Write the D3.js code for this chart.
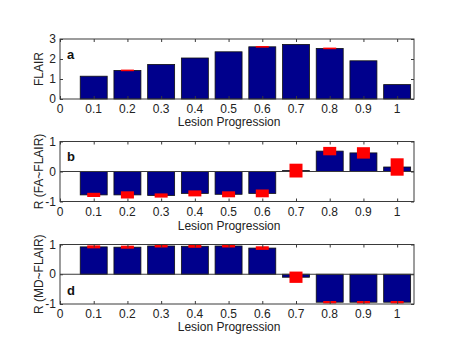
<!DOCTYPE html>
<html><head><meta charset="utf-8">
<script src="https://cdn.jsdelivr.net/npm/d3@7"></script>
<style>body{margin:0;background:#fff}svg{display:block;font-family:"Liberation Sans",Arial,sans-serif}</style>
</head><body>
<script>
const categories = [0.1,0.2,0.3,0.4,0.5,0.6,0.7,0.8,0.9,1];
const xTicks = [0,0.1,0.2,0.3,0.4,0.5,0.6,0.7,0.8,0.9,1];
const xTickLabels = ["0","0.1","0.2","0.3","0.4","0.5","0.6","0.7","0.8","0.9","1"];
const flairValues = [1.14,1.43,1.73,2.05,2.36,2.61,2.73,2.53,1.91,0.72];
const flairErr    = [0,0.04,0,0,0,0.04,0,0.04,0,0];
const faValues    = [-0.78,-0.78,-0.80,-0.73,-0.76,-0.73,0.03,0.68,0.62,0.15];
const faErr       = [0.07,0.12,0.07,0.10,0.10,0.13,0.23,0.14,0.19,0.29];
const mdValues    = [0.92,0.91,0.95,0.94,0.95,0.88,-0.10,-0.94,-0.94,-0.94];
const mdErr       = [0.05,0.05,0.05,0.05,0.05,0.06,0.19,0.04,0.04,0.04];

const panels = [
  {label:"a", ylab:"FLAIR", vals:flairValues, err:flairErr, dom:[0,3], yt:[0,1,2,3], top:39, bottom:99, letterY:59, tickLY:113, xlabY:126},
  {label:"b", ylab:"R (FA~FLAIR)", vals:faValues, err:faErr, dom:[-1,1], yt:[-1,0,1], top:141.5, bottom:201.5, letterY:161, tickLY:216, xlabY:230},
  {label:"d", ylab:"R (MD~FLAIR)", vals:mdValues, err:mdErr, dom:[-1,1], yt:[-1,0,1], top:244.5, bottom:304, letterY:295, tickLY:318, xlabY:331}
];

const W=474,H=355;
const svg=d3.select("body").append("svg").attr("width",W).attr("height",H);
const x=d3.scaleLinear().domain([0,1.05]).range([60,414]);
const step = x(0.1)-x(0);
const barW = step*0.8;
const axisColor="#3a3a3a";

panels.forEach(p=>{
  const y=d3.scaleLinear().domain(p.dom).range([p.bottom,p.top]);
  const g=svg.append("g");
  g.selectAll("rect.bar").data(p.vals).join("rect")
    .attr("x",(d,i)=>x(categories[i])-barW/2)
    .attr("width",barW)
    .attr("y",d=>y(Math.max(0,d)))
    .attr("height",d=>Math.abs(y(d)-y(0)))
    .attr("fill","#00008c").attr("stroke","#111").attr("stroke-width",0.8);
  if(p.dom[0]<0){
    g.append("line").attr("x1",x(0)).attr("x2",x(1.05)).attr("y1",y(0)).attr("y2",y(0))
      .attr("stroke",axisColor).attr("stroke-width",1);
  }
  g.selectAll("rect.err").data(p.vals).join("rect")
    .attr("x",(d,i)=>x(categories[i])-6.5)
    .attr("width",13)
    .attr("y",(d,i)=>y(d+p.err[i]))
    .attr("height",(d,i)=>Math.abs(y(d-p.err[i])-y(d+p.err[i])))
    .attr("fill","#ff0000");
  g.append("rect").attr("x",x(0)).attr("y",p.top).attr("width",x(1.05)-x(0)).attr("height",p.bottom-p.top)
    .attr("fill","none").attr("stroke",axisColor).attr("stroke-width",1);
  const axB=d3.axisBottom(x).tickValues(xTicks).tickSize(-3).tickFormat("");
  const axT=d3.axisTop(x).tickValues(xTicks).tickSize(-3).tickFormat("");
  const gb=g.append("g").attr("transform",`translate(0,${p.bottom})`).call(axB);
  const gt=g.append("g").attr("transform",`translate(0,${p.top})`).call(axT);
  const axL=d3.axisLeft(y).tickValues(p.yt).tickSize(-3).tickFormat("");
  const axR=d3.axisRight(y).tickValues(p.yt).tickSize(-3).tickFormat("");
  const gl=g.append("g").attr("transform",`translate(${x(0)},0)`).call(axL);
  const gr=g.append("g").attr("transform",`translate(${x(1.05)},0)`).call(axR);
  [gb,gt,gl,gr].forEach(a=>{a.select(".domain").remove();a.selectAll("line").attr("stroke",axisColor);});
  g.selectAll("text.xt").data(xTicks).join("text")
    .attr("x",d=>x(d)).attr("y",p.tickLY).attr("text-anchor","middle")
    .attr("font-size",12).attr("fill","#222").text((d,i)=>xTickLabels[i]);
  g.selectAll("text.yt").data(p.yt).join("text")
    .attr("x",x(0)-4).attr("y",d=>y(d)+4).attr("text-anchor","end")
    .attr("font-size",12).attr("fill","#222").text(d=>d);
  g.append("text").attr("x",x(0.5)+0.5).attr("y",p.xlabY).attr("text-anchor","middle")
    .attr("font-size",12).attr("fill","#222").text("Lesion Progression");
  g.append("text").attr("transform",`translate(43,${(p.top+p.bottom)/2}) rotate(-90)`)
    .attr("text-anchor","middle").attr("font-size",12).attr("fill","#222").text(p.ylab);
  g.append("text").attr("x",67).attr("y",p.letterY).attr("font-size",13).attr("font-weight","bold")
    .attr("fill","#111").text(p.label);
});
</script>
</body></html>
